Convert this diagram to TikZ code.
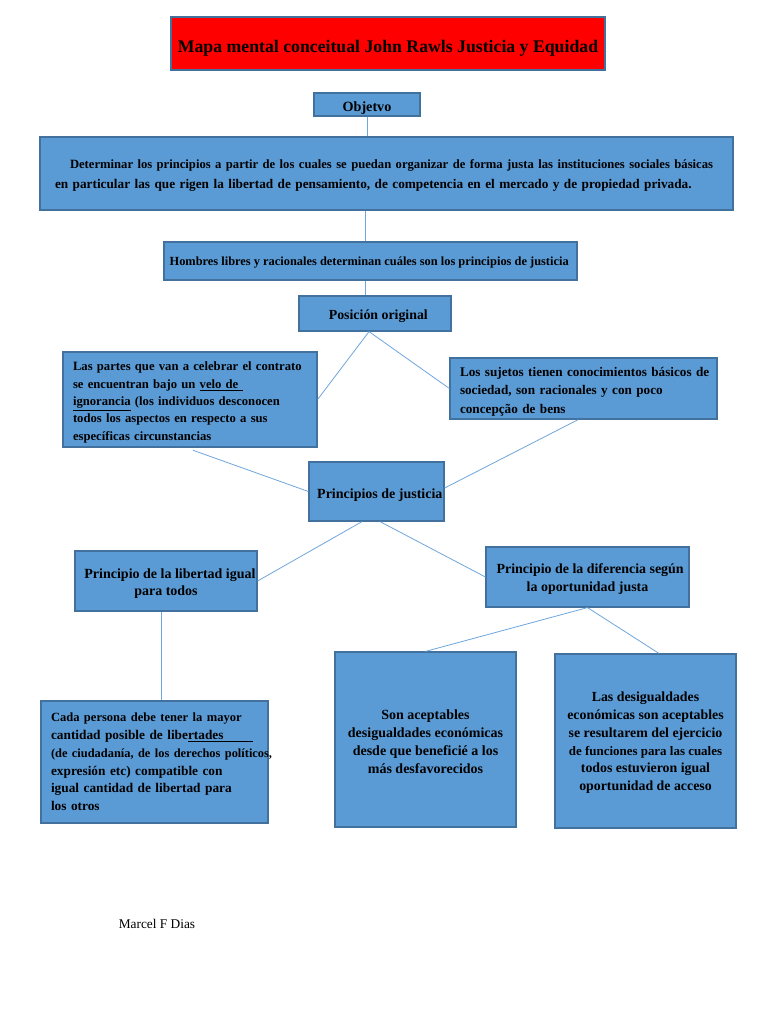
\documentclass[tikz,border=0pt]{standalone}
\usepackage{fontspec}
\setmainfont{Liberation Serif}
\definecolor{boxfill}{HTML}{5B9BD5}
\definecolor{boxline}{HTML}{41719C}
\definecolor{linkc}{HTML}{6FA6DC}
\newcommand{\dn}[1]{\rule{0pt}{#1}}
\newcommand{\lowr}[2]{\raisebox{-#1}[\height][\depth]{#2}}
\begin{document}
\begin{tikzpicture}[x=0.75pt,y=-0.75pt,
  bx/.style={draw=boxline, line width=0.9pt, fill=boxfill, inner sep=0pt, font=\bfseries, align=center},
  link/.style={draw=linkc, line width=0.6pt}]
\useasboundingbox (0,0) rectangle (768,1024);
\fill[white] (0,0) rectangle (768,1024);

\node[bx, fill=red, minimum width=325.5pt, minimum height=39.75pt, font=\bfseries\fontsize{13.3}{15}\selectfont] (title) at (388,43.5) {\lowr{3.75pt}{Mapa mental conceitual John Rawls Justicia y Equidad}};

\node[bx, minimum width=79.5pt, minimum height=17.25pt, font=\bfseries\fontsize{10.6}{12}\selectfont] (obj) at (367,104.5) {\lowr{3pt}{Objetvo}};

\node[bx, minimum width=519.75pt, minimum height=54.75pt, inner xsep=11.25pt, text width=497.25pt, align=left] (det) at (386.5,173.5)
 {\fontsize{9.47}{15}\selectfont\hspace*{11.25pt}\dn{9.5pt}\mbox{Determinar los principios a partir de los cuales se puedan organizar de forma justa las instituciones sociales básicas}\\[2.5pt]
  \fontsize{9.95}{15}\selectfont\mbox{en particular las que rigen la libertad de pensamiento, de competencia en el mercado y de propiedad privada.}};

\node[bx, minimum width=309.75pt, minimum height=28.5pt, font=\bfseries\fontsize{9.3}{11}\selectfont] (hom) at (370.5,261) {\lowr{1.5pt}{\hspace*{-2pt}Hombres libres y racionales determinan cuáles son los principios de justicia}};

\node[bx, minimum width=114pt, minimum height=26.25pt, font=\bfseries\fontsize{10.4}{12}\selectfont] (pos) at (375,313.5) {\lowr{2.25pt}{\hspace*{5pt}Posición original}};

\node[bx, minimum width=190.5pt, minimum height=71.25pt, inner xsep=7.5pt, text width=175.5pt, align=left, font=\bfseries\fontsize{9.5}{13.1}\selectfont] (partes) at (190,399.5)
 {\dn{11pt}\mbox{Las partes que van a celebrar el contrato}\\
  \mbox{se encuentran bajo un \underline{velo de\ }}\\
  \mbox{\underline{ignorancia} (los individuos desconocen}\\
  \mbox{todos los aspectos en respecto a sus}\\
  \mbox{específicas circunstancias}};

\node[bx, minimum width=200.25pt, minimum height=45.75pt, inner xsep=7.5pt, text width=185.25pt, align=left, font=\bfseries\fontsize{9.9}{13.9}\selectfont] (suj) at (583.5,388.5)
 {\dn{11.5pt}\mbox{Los sujetos tienen conocimientos básicos de}\\
  \mbox{sociedad, son racionales y con poco}\\
  \mbox{concepção de bens}};

\node[bx, minimum width=101.25pt, minimum height=44.25pt, font=\bfseries\fontsize{10.5}{12}\selectfont] (pj) at (376.5,491.5) {\lowr{3pt}{\hspace*{5pt}Principios de justicia}};

\node[bx, minimum width=136.5pt, minimum height=45pt, font=\bfseries\fontsize{10.5}{13}\selectfont] (lib) at (166,581) {\dn{11.5pt}\hspace*{6pt}Principio de la libertad igual\\para todos};

\node[bx, minimum width=152.25pt, minimum height=45pt, font=\bfseries\fontsize{10.45}{13.5}\selectfont] (dif) at (587.5,577) {\dn{10.5pt}\hspace*{4pt}Principio de la diferencia según\\la oportunidad justa};

\node[bx, minimum width=170.25pt, minimum height=91.5pt, inner xsep=7.5pt, text width=155.25pt, align=left, font=\bfseries\fontsize{10}{13.3}\selectfont] (cada) at (154.5,762)
 {\mbox{\fontsize{9.4}{13.3}\selectfont Cada persona debe tener la mayor}\\
  \mbox{cantidad posible de libe\underline{rtades\hspace*{22pt}}}\\
  \mbox{\fontsize{9.3}{13.3}\selectfont (de ciudadanía, de los derechos políticos,}\\
  \mbox{expresión etc) compatible con}\\
  \mbox{igual cantidad de libertad para}\\
  \mbox{los otros}};

\node[bx, minimum width=135.75pt, minimum height=131.25pt, font=\bfseries\fontsize{10.5}{13.5}\selectfont] (son) at (425.5,739.5)
 {\dn{10pt}Son aceptables\\desigualdades económicas\\desde que beneficié a los\\más desfavorecidos};

\node[bx, minimum width=135.75pt, minimum height=130.5pt, font=\bfseries\fontsize{10.4}{13.3}\selectfont] (desig) at (645.5,741)
 {\dn{10pt}Las desigualdades\\económicas son aceptables\\se resultarem del ejercicio\\{\fontsize{9.7}{13.3}\selectfont de funciones para las cuales}\\todos estuvieron igual\\oportunidad de acceso};

\node[font=\fontsize{10}{12}\selectfont, inner sep=0pt] (autor) at (157,924) {Marcel F Dias};

% connectors
\draw[link] (obj.south) -- (obj.south |- det.north);
\draw[link] ([xshift=-4pt]hom.north |- det.south) -- ([xshift=-4pt]hom.north);
\draw[link] ([xshift=-4pt]hom.south) -- ([xshift=-4pt]hom.south |- pos.north);
\draw[link] ([xshift=-4.5pt]pos.south) -- (partes.east);
\draw[link] ([xshift=-4.5pt]pos.south) -- (suj.west);
\draw[link] ([xshift=2.25pt,yshift=-2pt]partes.south) -- (pj.west);
\draw[link] ([xshift=-4pt]suj.south) -- ([yshift=2.6pt]pj.east);
\draw[link] ([xshift=-10.9pt]pj.south) -- (lib.east);
\draw[link] ([xshift=2.6pt]pj.south) -- (dif.west);
\draw[link] ([xshift=-3.75pt]lib.south) -- ([xshift=-3.75pt]lib.south |- cada.north);
\draw[link] (dif.south) -- (son.north);
\draw[link] (dif.south) -- ([xshift=10.1pt]desig.north);
\end{tikzpicture}
\end{document}
